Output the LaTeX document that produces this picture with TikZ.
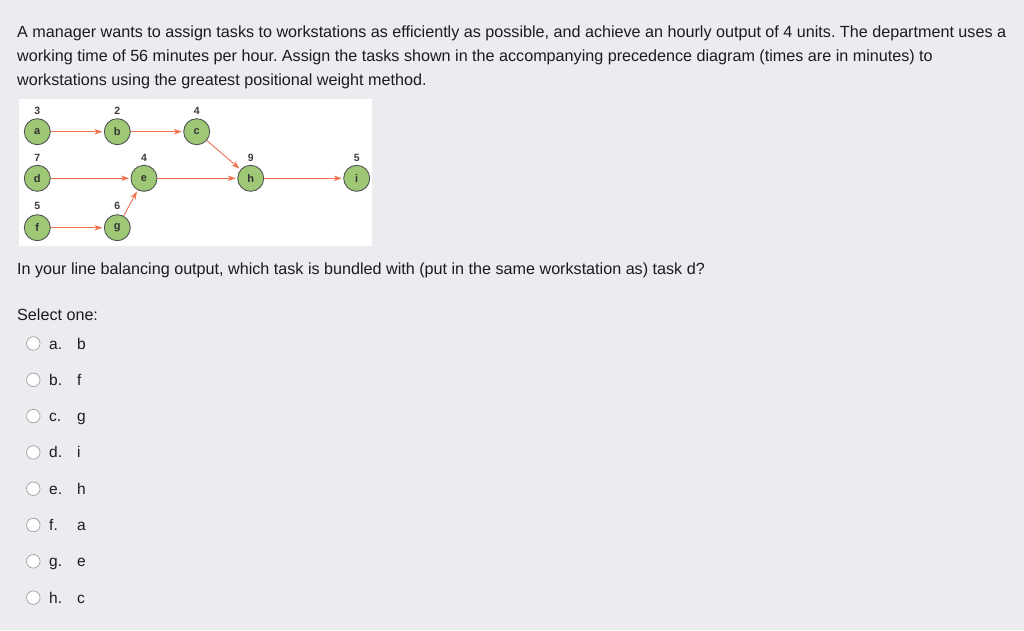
\documentclass[tikz,border=0pt]{standalone}
\usepackage{fontspec}
\setmainfont{Liberation Sans}
\usetikzlibrary{arrows.meta}
\definecolor{bg}{RGB}{235,235,240}
\definecolor{nodefill}{RGB}{158,200,118}
\definecolor{nodeline}{RGB}{80,85,80}
\definecolor{arr}{RGB}{238,112,78}
\definecolor{txt}{RGB}{28,28,30}
\definecolor{wtc}{RGB}{60,60,60}
\frenchspacing
\begin{document}
\begin{tikzpicture}[x=1pt,y=-1pt,
  body/.style={anchor=base west,inner sep=0pt,text=txt,font=\fontsize{16.15}{19}\selectfont},
  opt/.style={anchor=base west,inner sep=0pt,text=txt,font=\fontsize{15.5}{18}\selectfont},
  radio/.style={circle,draw=gray!75,fill=white,line width=0.7pt,minimum size=13.5pt,inner sep=0pt},
  task/.style={circle,draw=nodeline,fill=nodefill,line width=0.9pt,minimum size=26pt,inner sep=0pt,font=\fontsize{11}{12}\selectfont\bfseries,text=black!80},
  wt/.style={inner sep=0pt,font=\fontsize{10.5}{12}\selectfont\bfseries,text=wtc},
  conn/.style={draw=arr,line width=0.9pt,-{Stealth[length=8pt,width=5.5pt]},shorten >=1.5pt}
]
\fill[bg] (0,0) rectangle (1024,630);
\useasboundingbox (0,0) rectangle (1024,630);

\node[body] (t1) at (17,37) {A manager wants to assign tasks to workstations as efficiently as possible, and achieve an hourly output of 4 units. The department uses a};
\node[body] (t2) at (17,61) {working time of 56 minutes per hour. Assign the tasks shown in the accompanying precedence diagram (times are in minutes) to};
\node[body] (t3) at (17,85) {workstations using the greatest positional weight method.};

\fill[white] (19,99) rectangle (372,246);

\node[task] (a) at (37.3,131.7) {a};
\node[task] (b) at (117.3,131.7) {b};
\node[task] (c) at (196.7,131.7) {c};
\node[task] (d) at (37.3,178.3) {d};
\node[task] (e) at (144,178.3) {e};
\node[task] (h) at (250.7,178.3) {h};
\node[task] (i) at (356.7,178.3) {i};
\node[task] (f) at (37.3,227.7) {f};
\node[task] (g) at (117.3,227.7) {g};

\node[wt] (wa) at (37.3,111) {3};
\node[wt] (wb) at (117.3,111) {2};
\node[wt] (wc) at (196.7,111) {4};
\node[wt] (wd) at (37.3,158) {7};
\node[wt] (we) at (144,158) {4};
\node[wt] (wh) at (250.7,158) {9};
\node[wt] (wi) at (356.7,158) {5};
\node[wt] (wf) at (37.3,205.5) {5};
\node[wt] (wg) at (117.3,205.5) {6};

\draw[conn] (a) -- (b);
\draw[conn] (b) -- (c);
\draw[conn] (c) -- (h);
\draw[conn] (d) -- (e);
\draw[conn] (e) -- (h);
\draw[conn] (h) -- (i);
\draw[conn] (f) -- (g);
\draw[conn] (g) -- (e);

\node[body] (q) at (17,274) {In your line balancing output, which task is bundled with (put in the same workstation as) task d?};
\node[body] (sel) at (17,320.5) {Select one:};

\node[radio] (ra) at (33.3,343.5) {};
\node[opt] (la) at (49,349) {a.};
\node[opt] (va) at (77,349) {b};
\node[radio] (rb) at (33.3,379.8) {};
\node[opt] (lb) at (49,385.3) {b.};
\node[opt] (vb) at (77,385.3) {f};
\node[radio] (rc) at (33.3,416.1) {};
\node[opt] (lc) at (49,421.6) {c.};
\node[opt] (vc) at (77,421.6) {g};
\node[radio] (rd) at (33.3,452.4) {};
\node[opt] (ld) at (49,457.9) {d.};
\node[opt] (vd) at (77,457.9) {i};
\node[radio] (re) at (33.3,488.7) {};
\node[opt] (le) at (49,494.2) {e.};
\node[opt] (ve) at (77,494.2) {h};
\node[radio] (rf) at (33.3,525) {};
\node[opt] (lf) at (49,530.5) {f.};
\node[opt] (vf) at (77,530.5) {a};
\node[radio] (rg) at (33.3,561.3) {};
\node[opt] (lg) at (49,566.8) {g.};
\node[opt] (vg) at (77,566.8) {e};
\node[radio] (rh) at (33.3,597.6) {};
\node[opt] (lh) at (49,603.1) {h.};
\node[opt] (vh) at (77,603.1) {c};
\end{tikzpicture}
\end{document}
